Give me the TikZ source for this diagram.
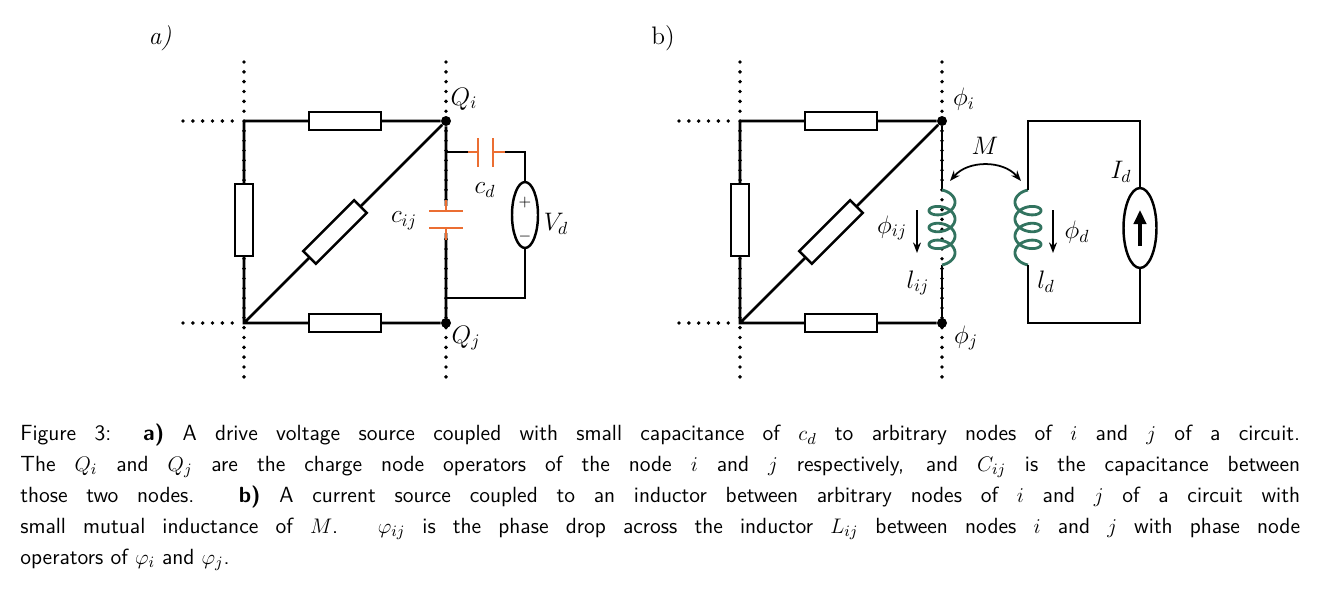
\documentclass[tikz,border=0pt]{standalone}
\usepackage{fontspec}
\usetikzlibrary{arrows.meta,shapes.geometric}
\begin{document}
\begin{tikzpicture}[x=0.02cm,y=-0.02cm,
  wire/.style={line width=1.6pt},
  res/.style={draw,line width=1.4pt,fill=white,minimum width=1.44cm,minimum height=0.36cm,inner sep=0pt},
  dots/.style={line width=2.2pt,line cap=round,dash pattern=on 0pt off 5.6pt},
  dot/.style={circle,fill=black,inner sep=0pt,minimum size=0.2cm},
  lab/.style={font=\Large}]
\definecolor{capcol}{RGB}{235,110,50}
\definecolor{coilcol}{RGB}{50,115,95}
\useasboundingbox (0,0) rectangle (1320,592);
% ---------- a)
\node[font=\Large\itshape] (la) at (160,38) {a)};
\draw[dots] (244,62) -- (244,384);
\draw[dots] (446,62) -- (446,384);
\draw[dots] (183,121) -- (238,121);
\draw[dots] (183,323) -- (238,323);
\coordinate (A1) at (244,121); \coordinate (A2) at (244,323);
\node[dot] (Qi) at (446,121) {}; \node[dot] (Qj) at (446,323) {};
\draw[wire] (A1) -- (Qi) (A1) -- (A2) -- (Qj) -- (Qi) (A2) -- (Qi);
\node[res] (ra1) at (345,121) {};
\node[res] (ra2) at (345,323) {};
\node[res,rotate=90] (ra3) at (244,220) {};
\node[res,rotate=45] (ra4) at (335,232) {};
\node[lab] at (464,99) {$Q_i$};
\node[lab] at (466,338) {$Q_j$};
% cd capacitor loop
\coordinate (c1) at (446,152); \coordinate (c2) at (525,152);
\coordinate (c3) at (525,298); \coordinate (c4) at (446,298);
\node[draw,line width=1.4pt,ellipse,minimum width=0.52cm,minimum height=1.32cm,inner sep=0pt,fill=white] (Vd) at (525,215) {};
\draw[wire] (c1) -- (c2) -- (Vd.north) (Vd.south) -- (c3) -- (c4);
\fill[white] (474,140) rectangle (497,165);
\draw[wire,draw=capcol] (468,152) -- (478,152) (493,152) -- (505,152);
\draw[wire,draw=capcol] (478,138) -- (478,167) (493,138) -- (493,167);
\node at (525,203) {\small$+$}; \node at (525,237) {\small$-$};
\node[lab] (cdl) at (485,190) {$c_d$};
\node[lab] (Vdl) at (556,224) {$V_d$};
% cij
\fill[white] (430,206) rectangle (462,233);
\draw[wire,draw=capcol] (446,200) -- (446,211) (446,228) -- (446,240);
\draw[wire,draw=capcol] (429,211) -- (463,211) (429,228) -- (463,228);
\node[lab] (cijl) at (404,221) {$c_{ij}$};
% ---------- b)
\node[font=\Large] (lb) at (663,38) {b)};
\draw[dots] (740,62) -- (740,384);
\draw[dots] (942,62) -- (942,384);
\draw[dots] (679,121) -- (734,121);
\draw[dots] (679,323) -- (734,323);
\coordinate (B1) at (740,121); \coordinate (B2) at (740,323);
\node[dot] (Pi) at (942,121) {}; \node[dot] (Pj) at (942,323) {};
\draw[wire] (B1) -- (Pi) (B1) -- (B2) -- (Pj) (B2) -- (Pi);
\coordinate (L1t) at (942,190); \coordinate (L1b) at (942,265);
\draw[wire] (Pi) -- (L1t) (L1b) -- (Pj);
\node[res] (rb1) at (841,121) {};
\node[res] (rb2) at (841,323) {};
\node[res,rotate=90] (rb3) at (740,220) {};
\node[res,rotate=45] (rb4) at (831,232) {};
\node[lab] at (964,99) {$\phi_i$};
\node[lab] at (966,338) {$\phi_j$};
\draw[line width=1.6pt,draw=coilcol,smooth,samples=200,domain=0:1260,variable=\t]
  plot ({942+13*sin(\t)},{190+59*(\t/1260)+8*(1-cos(\t))});
\draw[line width=1.6pt,draw=coilcol,smooth,samples=200,domain=0:1260,variable=\t]
  plot ({1028-13*sin(\t)},{190+59*(\t/1260)+8*(1-cos(\t))});
\coordinate (L2t) at (1028,190); \coordinate (L2b) at (1028,265);
\coordinate (d1) at (1028,121); \coordinate (d2) at (1140,121);
\coordinate (d3) at (1140,323); \coordinate (d4) at (1028,323);
\node[draw,line width=1.4pt,ellipse,minimum width=0.66cm,minimum height=1.6cm,inner sep=0pt,fill=white] (Id) at (1140,228) {};
\draw[wire] (L2t) -- (d1) -- (d2) -- (Id.north) (Id.south) -- (d3) -- (d4) -- (L2b);
\draw[line width=2.2pt,-{Triangle[length=8pt,width=7pt]}] (1140,246) -- (1140,210);
\node[lab] (Idl) at (1121,172) {$I_d$};
\draw[line width=1pt,-{Stealth[length=6pt]}] (917,210) -- (917,253);
\draw[line width=1pt,-{Stealth[length=6pt]}] (1053,210) -- (1053,253);
\node[lab] (pijl) at (892,228) {$\phi_{ij}$};
\node[lab] (pdl) at (1077,232) {$\phi_d$};
\node[lab] (lijl) at (918,283) {$l_{ij}$};
\node[lab] (ldl) at (1046,282) {$l_d$};
\coordinate (m1) at (950,181); \coordinate (m2) at (1021,181);
\draw[line width=1pt,{Stealth[length=6pt]}-{Stealth[length=6pt]}] (m1) .. controls (968,160) and (1003,160) .. (m2);
\node[lab] (Ml) at (985,146) {$M$};
% ---------- caption
\node[anchor=north west,text width=25.6cm,align=justify,inner sep=0pt,font=\fontsize{12.5}{17.6}\selectfont\sffamily] (cap) at (20,424) {%
Figure 3: \textbf{a)} A drive voltage source coupled with small capacitance of $c_d$ to arbitrary nodes of $i$ and $j$ of a circuit.\linebreak
The $Q_i$ and $Q_j$ are the charge node operators of the node $i$ and $j$ respectively, and $C_{ij}$ is the capacitance between\linebreak
those two nodes. \textbf{b)} A current source coupled to an inductor between arbitrary nodes of $i$ and $j$ of a circuit with\linebreak
small mutual inductance of $M$. $\varphi_{ij}$ is the phase drop across the inductor $L_{ij}$ between nodes $i$ and $j$ with phase node\linebreak
operators of $\varphi_i$ and $\varphi_j$.};
\end{tikzpicture}
\end{document}
